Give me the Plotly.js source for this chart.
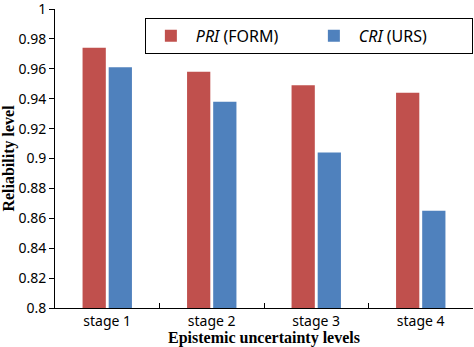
<!DOCTYPE html>
<html>
<head>
<meta charset="utf-8">
<script src="https://cdn.plot.ly/plotly-3.0.1.min.js"></script>
<style>html,body{margin:0;padding:0;background:#fff;}#chart{width:474px;height:347px;}</style>
</head>
<body>
<div id="chart"></div>
<script>
const categories = ["stage 1", "stage 2", "stage 3", "stage 4"];
const priForm = [0.974, 0.958, 0.949, 0.944];
const criUrs = [0.961, 0.938, 0.904, 0.865];
const seriesNames = ["<i>PRI</i> (FORM)", "<i>CRI</i> (URS)"];
const yTickVals = [0.8, 0.82, 0.84, 0.86, 0.88, 0.9, 0.92, 0.94, 0.96, 0.98, 1];
const yTickText = ["0.8", "0.82", "0.84", "0.86", "0.88", "0.9", "0.92", "0.94", "0.96", "0.98", "1"];

const data = [
  {type: "bar", x: categories, y: priForm, name: seriesNames[0], marker: {color: "#C0504D"}},
  {type: "bar", x: categories, y: criUrs, name: seriesNames[1], marker: {color: "#4F81BD"}}
];

const layout = {
  width: 474, height: 347,
  margin: {l: 55, r: 1, t: 9, b: 39},
  paper_bgcolor: "#fff", plot_bgcolor: "#fff",
  barmode: "group", bargap: 0.5, bargroupgap: 0.11,
  font: {family: "Noto Sans, sans-serif", size: 14, color: "#000"},
  xaxis: {
    showline: true, linecolor: "#000", linewidth: 1,
    ticks: "inside", tickson: "boundaries", ticklen: 5, tickcolor: "#000",
    tickfont: {size: 14, family: "Noto Sans, sans-serif"},
    title: {text: "Epistemic uncertainty levels", font: {family: "Liberation Serif, serif", size: 16, weight: "bold"}, standoff: 2},
    showgrid: false, zeroline: false
  },
  yaxis: {
    range: [0.8, 1], showline: true, linecolor: "#000", linewidth: 1,
    ticks: "outside", ticklen: 5, tickcolor: "#000",
    tickvals: yTickVals, ticktext: yTickText, ticklabeloverflow: "allow",
    tickfont: {size: 14, family: "Noto Sans, sans-serif"},
    title: {text: "Reliability level", font: {family: "Liberation Serif, serif", size: 16, weight: "bold"}, standoff: 4},
    showgrid: false, zeroline: false
  },
  legend: {
    orientation: "h", x: 0.215, y: 0.97, xanchor: "left", yanchor: "top",
    bordercolor: "#000", borderwidth: 1, bgcolor: "#fff",
    font: {size: 16, family: "Noto Sans, sans-serif"},
    itemwidth: 40, entrywidth: 108
  },
  showlegend: true
};

Plotly.newPlot("chart", data, layout, {displayModeBar: false, staticPlot: true});
</script>
</body>
</html>
